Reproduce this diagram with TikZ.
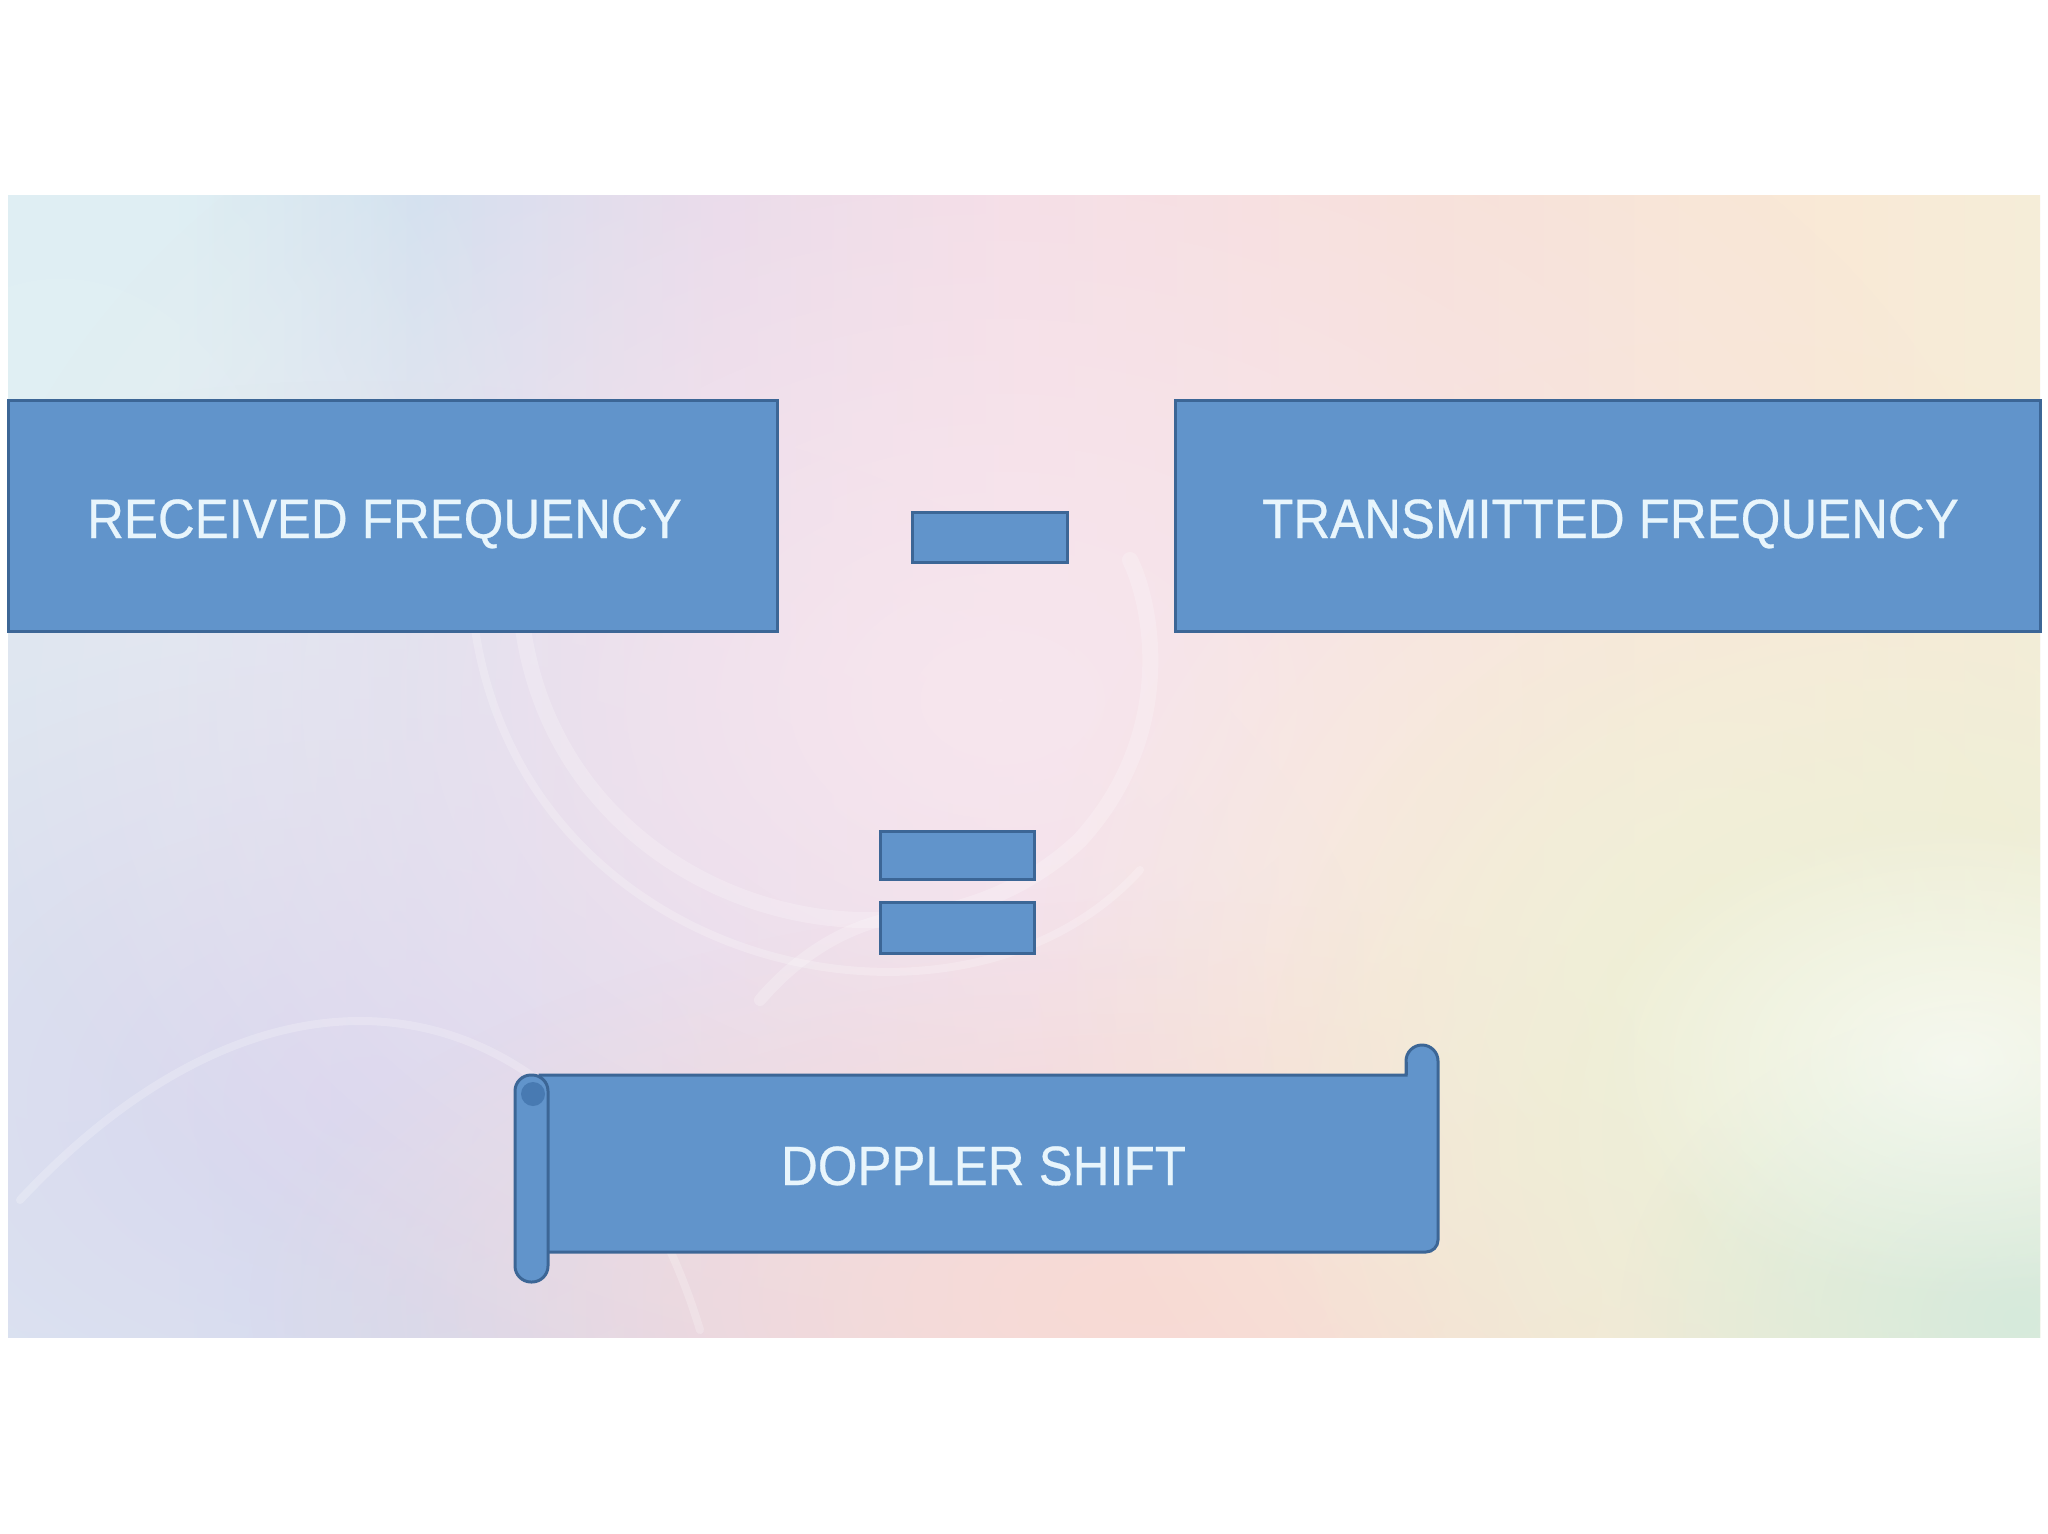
\documentclass[tikz,border=0pt]{standalone}
\usepackage{fontspec}
\setmainfont{Liberation Sans}
\newfontfamily\lblfont[FakeBold=0.5]{Liberation Sans}
\usetikzlibrary{fadings}
\definecolor{boxfill}{RGB}{97,148,203}
\definecolor{boxline}{RGB}{60,102,150}
\definecolor{rolldark}{RGB}{72,122,178}
\definecolor{txt}{RGB}{232,245,252}
\definecolor{bgA}{RGB}{222,238,243}
\definecolor{bgB}{RGB}{206,224,240}
\definecolor{bgC}{RGB}{230,216,234}
\definecolor{bgD}{RGB}{245,220,228}
\definecolor{bgE}{RGB}{248,224,214}
\definecolor{bgF}{RGB}{249,233,214}
\definecolor{bgG}{RGB}{245,237,216}
\definecolor{lav}{RGB}{216,214,238}
\definecolor{mint}{RGB}{214,234,220}
\definecolor{paleg}{RGB}{232,240,216}
\definecolor{pinkw}{RGB}{247,230,238}
\definecolor{peach}{RGB}{248,218,212}
\definecolor{yell}{RGB}{248,240,214}
\definecolor{cyanl}{RGB}{226,240,244}
\pgfdeclarehorizontalshading{bgh}{100bp}{color(0bp)=(bgA); color(29bp)=(bgA); color(35bp)=(bgB); color(42.5bp)=(bgC); color(50bp)=(bgD); color(60bp)=(bgE); color(70bp)=(bgF); color(75bp)=(bgG); color(100bp)=(bgG)}
\tikzfading[name=blob, inner color=transparent!0, outer color=transparent!100]
\tikzset{
  eqbox/.style={draw=boxline, fill=boxfill, line width=1.5pt, inner sep=0pt, outer sep=0pt},
  lbl/.style={text=txt, font=\lblfont\fontsize{27.7}{30}\selectfont, inner sep=0pt, anchor=base},
  swirl/.style={white, opacity=0.22, line cap=round}
}
\newcommand{\sq}[1]{\scalebox{0.92}[1]{#1}}
\begin{document}
\begin{tikzpicture}[x=0.5pt,y=-0.5pt]
\useasboundingbox (0,0) rectangle (2048,1534);
\fill[white] (0,0) rectangle (2048,1534);
\begin{scope}
\clip (8,196) rectangle (2040,1337);
\shade[shading=bgh] (8,196) rectangle (2040,1337);
% soft colour patches
\fill[cyanl, path fading=blob] (60,700) ellipse [x radius=260pt, y radius=420pt];
\fill[lav, path fading=blob] (360,1100) ellipse [x radius=520pt, y radius=360pt];
\fill[pinkw, path fading=blob] (1000,700) ellipse [x radius=520pt, y radius=380pt];
\fill[peach, path fading=blob] (1150,1300) ellipse [x radius=450pt, y radius=200pt];
\fill[yell, path fading=blob] (1720,980) ellipse [x radius=340pt, y radius=320pt];
\fill[paleg, path fading=blob] (1900,1130) ellipse [x radius=320pt, y radius=300pt];
\fill[mint, path fading=blob] (2020,1320) ellipse [x radius=200pt, y radius=160pt];
\fill[white, opacity=0.6, path fading=blob] (1960,1060) ellipse [x radius=180pt, y radius=120pt];
% faint swirling bands
\draw[swirl, line width=8pt] (520,600) .. controls (540,900) and (900,1010) .. (1080,840) .. controls (1180,730) and (1150,600) .. (1130,560);
\draw[swirl, line width=4pt] (470,560) .. controls (470,960) and (950,1080) .. (1140,870);
\draw[swirl, line width=6pt] (760,1000) .. controls (820,930) and (900,900) .. (980,920);
\draw[swirl, line width=4pt] (20,1200) .. controls (300,900) and (600,1000) .. (700,1330);
\end{scope}

% top row
\node[eqbox, minimum width=384.5pt, minimum height=115pt] (rx) at (392.5,516) {};
\node[lbl] (rxt) at (384.5,538) {\sq{RECEIVED FREQUENCY}};
\node[eqbox, minimum width=432.5pt, minimum height=115pt] (tx) at (1607.5,516) {};
\node[lbl] (txt) at (1610.5,538) {\sq{TRANSMITTED FREQUENCY}};
\node[eqbox, minimum width=77.5pt, minimum height=25pt] (minus) at (989.5,537) {};
% equals sign
\node[eqbox, minimum width=77pt, minimum height=24pt] (eqa) at (957,855) {};
\node[eqbox, minimum width=77pt, minimum height=25.5pt] (eqb) at (957,927.5) {};

% horizontal scroll
\draw[eqbox] (540,1075) -- (1406,1075) -- (1406,1061)
   arc[start angle=180, end angle=0, radius=8pt] -- (1438,1240)
   arc[start angle=0, end angle=-90, radius=6pt] -- (540,1252) -- cycle;
\draw[boxline, line width=1.5pt] (1406,1075) -- (1406,1062);
\draw[eqbox, rounded corners=8pt] (515,1075) rectangle (548,1282);
\fill[rolldark] (533,1094) circle[radius=6pt];
\node[lbl] (ds) at (983.5,1185) {\sq{DOPPLER SHIFT}};
\end{tikzpicture}
\end{document}
